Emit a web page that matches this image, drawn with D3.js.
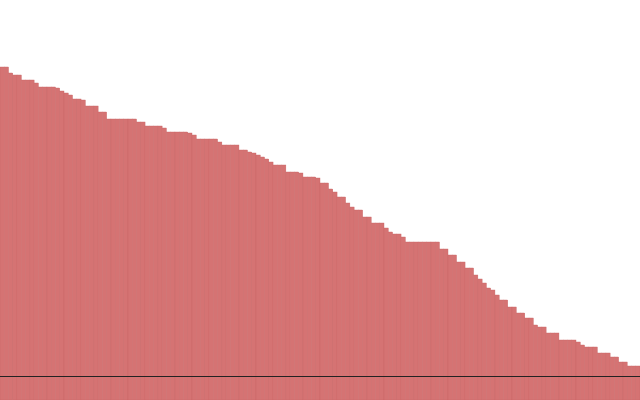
<!DOCTYPE html>
<html>
<head>
<meta charset="utf-8">
<script src="https://cdn.jsdelivr.net/npm/d3@7"></script>
<style>
	html, body { margin: 0; padding: 0; background: #fff; }
	svg { display: block; }
</style>
</head>
<body>
<div id="chart"></div>
<script>
// bar heights above the zero line, sorted descending
var values = [
	309, 309, 303, 301, 301, 296, 296, 296, 293, 289,
	289, 289, 289, 288, 285, 283, 281, 277, 277, 276,
	270, 270, 270, 264, 264, 257, 257, 257, 257, 257,
	257, 257, 254, 254, 250, 250, 250, 250, 248, 244,
	244, 244, 244, 244, 243, 241, 237, 237, 237, 237,
	237, 234, 231, 231, 231, 231, 226, 226, 224, 223,
	221, 219, 217, 214, 211, 211, 211, 204, 204, 204,
	203, 199, 199, 199, 198, 193, 193, 187, 184, 179,
	179, 173, 169, 166, 166, 159, 159, 153, 153, 153,
	148, 144, 142, 142, 139, 134, 134, 134, 134, 134,
	134, 134, 134, 127, 127, 121, 121, 114, 114, 108,
	108, 101, 97, 93, 88, 86, 81, 76, 76, 69,
	69, 63, 63, 58, 58, 51, 49, 49, 43, 43,
	43, 36, 36, 36, 36, 34, 31, 29, 29, 29,
	23, 23, 23, 19, 19, 14, 14, 10, 10, 10
];
var categories = values.map(function(d, i) { return 'c' + (i + 1); });
var yDomain = [-24, 376];

var width = 640, height = 400;

var svg = d3.select('#chart').append('svg')
	.attr('width', width)
	.attr('height', height);

var x = d3.scaleBand()
	.domain(categories)
	.range([0, width])
	.padding(0);

var y = d3.scaleLinear()
	.domain(yDomain)
	.range([height, 0]);

// bars run from the bottom edge up to their value
svg.append('g').attr('class', 'bars')
	.selectAll('rect')
	.data(values)
	.enter()
	.append('rect')
	.attr('x', function(d, i) { return x(categories[i]); })
	.attr('width', x.bandwidth())
	.attr('y', function(d) { return y(d); })
	.attr('height', function(d) { return y(yDomain[0]) - y(d); })
	.attr('fill', '#d57373')
	.attr('stroke', '#c96565')
	.attr('stroke-width', 0.4);

// zero line
svg.append('line')
	.attr('x1', 0)
	.attr('x2', width)
	.attr('y1', Math.round(y(0)) + 0.5)
	.attr('y2', Math.round(y(0)) + 0.5)
	.attr('stroke', '#222')
	.attr('stroke-width', 1);
</script>
</body>
</html>
